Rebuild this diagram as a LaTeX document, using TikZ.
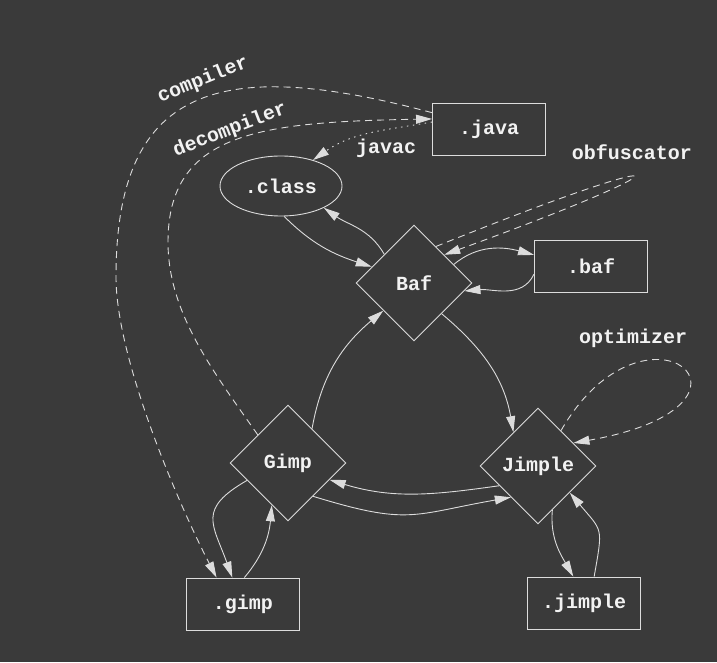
\documentclass[tikz,border=0pt]{standalone}
\usepackage{fontspec}
\setmonofont{Liberation Mono}
\usetikzlibrary{shapes.geometric,arrows.meta}
\definecolor{bg}{HTML}{3A3A3A}
\definecolor{ink}{HTML}{DCDCDC}
\definecolor{txt}{HTML}{F2F2F2}
\newcommand{\codefont}{\fontsize{20}{23}\selectfont\ttfamily\bfseries}
\tikzstyle{filebox} = [rectangle, draw=ink, line width=0.9pt, minimum width=113pt, minimum height=52pt, text=txt, font=\codefont]
\tikzstyle{irbox} = [diamond, draw=ink, line width=0.9pt, minimum width=116pt, minimum height=116pt, inner sep=0pt, text=txt, font=\codefont]
\tikzstyle{classbox} = [ellipse, draw=ink, line width=0.9pt, minimum width=122pt, minimum height=60pt, text=txt, font=\codefont]
\tikzstyle{toollabel} = [text=txt, font=\codefont]
\tikzstyle{arrow} = [draw=ink, line width=0.9pt, -{Triangle[length=16pt,width=9pt]}]
\tikzstyle{dasharrow} = [arrow, dash pattern=on 7pt off 5pt]
\tikzstyle{dotarrow} = [arrow, dash pattern=on 1.5pt off 4.5pt]

\begin{document}
\begin{tikzpicture}[x=1pt, y=1pt]
	\useasboundingbox (0,0) rectangle (717,662);
	\fill[bg] (0,0) rectangle (717,662);
	\node (java) at (489, 533) [filebox] {.java};
	\node (class) at (281, 476) [classbox] {.class};
	\node (baf) at (414, 379) [irbox] {Baf};
	\node (baffile) at (591, 396) [filebox] {.baf};
	\node (gimp) at (288, 199) [irbox] {Gimp};
	\node (jimple) at (538, 196) [irbox] {Jimple};
	\node (gimpfile) at (243, 58) [filebox] {.gimp};
	\node (jimplefile) at (584, 59) [filebox] {.jimple};
	\node (compiler) at (203, 582) [toollabel, rotate=22] {compiler};
	\node (decompiler) at (230, 532) [toollabel, rotate=21] {decompiler};
	\node (javac) at (386, 514) [toollabel] {javac};
	\node (obfuscator) at (632, 510) [toollabel] {obfuscator};
	\node (optimizer) at (633, 324) [toollabel] {optimizer};
	\draw [dasharrow] (java.164) .. controls (217,607) and (116,575) .. (116,385) .. controls (116,305) and (176,163) .. (gimpfile.135);
	\draw [dasharrow] (gimp.137) .. controls (212,292) and (168,350) .. (168,420) .. controls (168,530) and (260,540) .. (java.170);
	\draw [dotarrow] (java.173) to[out=190, in=35] (class.39);
	\draw [arrow] (class.-84) to[out=-45, in=162] (baf.159);
	\draw [arrow] (baf.136) to[out=120, in=-35] (class.-27);
	\draw [arrow] (baf.25) to[out=40, in=165] (baffile.169);
	\draw [arrow] (baffile.188) to[out=-115, in=5] (baf.-9);
	\draw [dasharrow] (baf.59) to[out=22, in=20, distance=275pt] (baf.43);
	\draw [arrow] (baf.-48) to[out=-40, in=100] (jimple.126);
	\draw [arrow] (gimp.55) to[out=80, in=-140] (baf.-138);
	\draw [dasharrow] (jimple.57) to[out=60, in=10, out distance=170pt, in distance=220pt] (jimple.33);
	\draw [arrow] (jimple.207) to[out=188, in=-17] (gimp.-22);
	\draw [arrow] (gimp.-53) to[out=-17, in=190, looseness=1.3] (jimple.229);
	\draw [arrow] (gimp.203) to[out=210, in=110, looseness=1.5] (gimpfile.112);
	\draw [arrow] (gimpfile.87) to[out=50, in=-95] (gimp.-111);
	\draw [arrow] (jimple.-72) to[out=-95, in=120] (jimplefile.112);
	\draw [arrow] (jimplefile.69) to[out=80, in=-50, looseness=1.5] (jimple.-40);
\end{tikzpicture}
\end{document}
